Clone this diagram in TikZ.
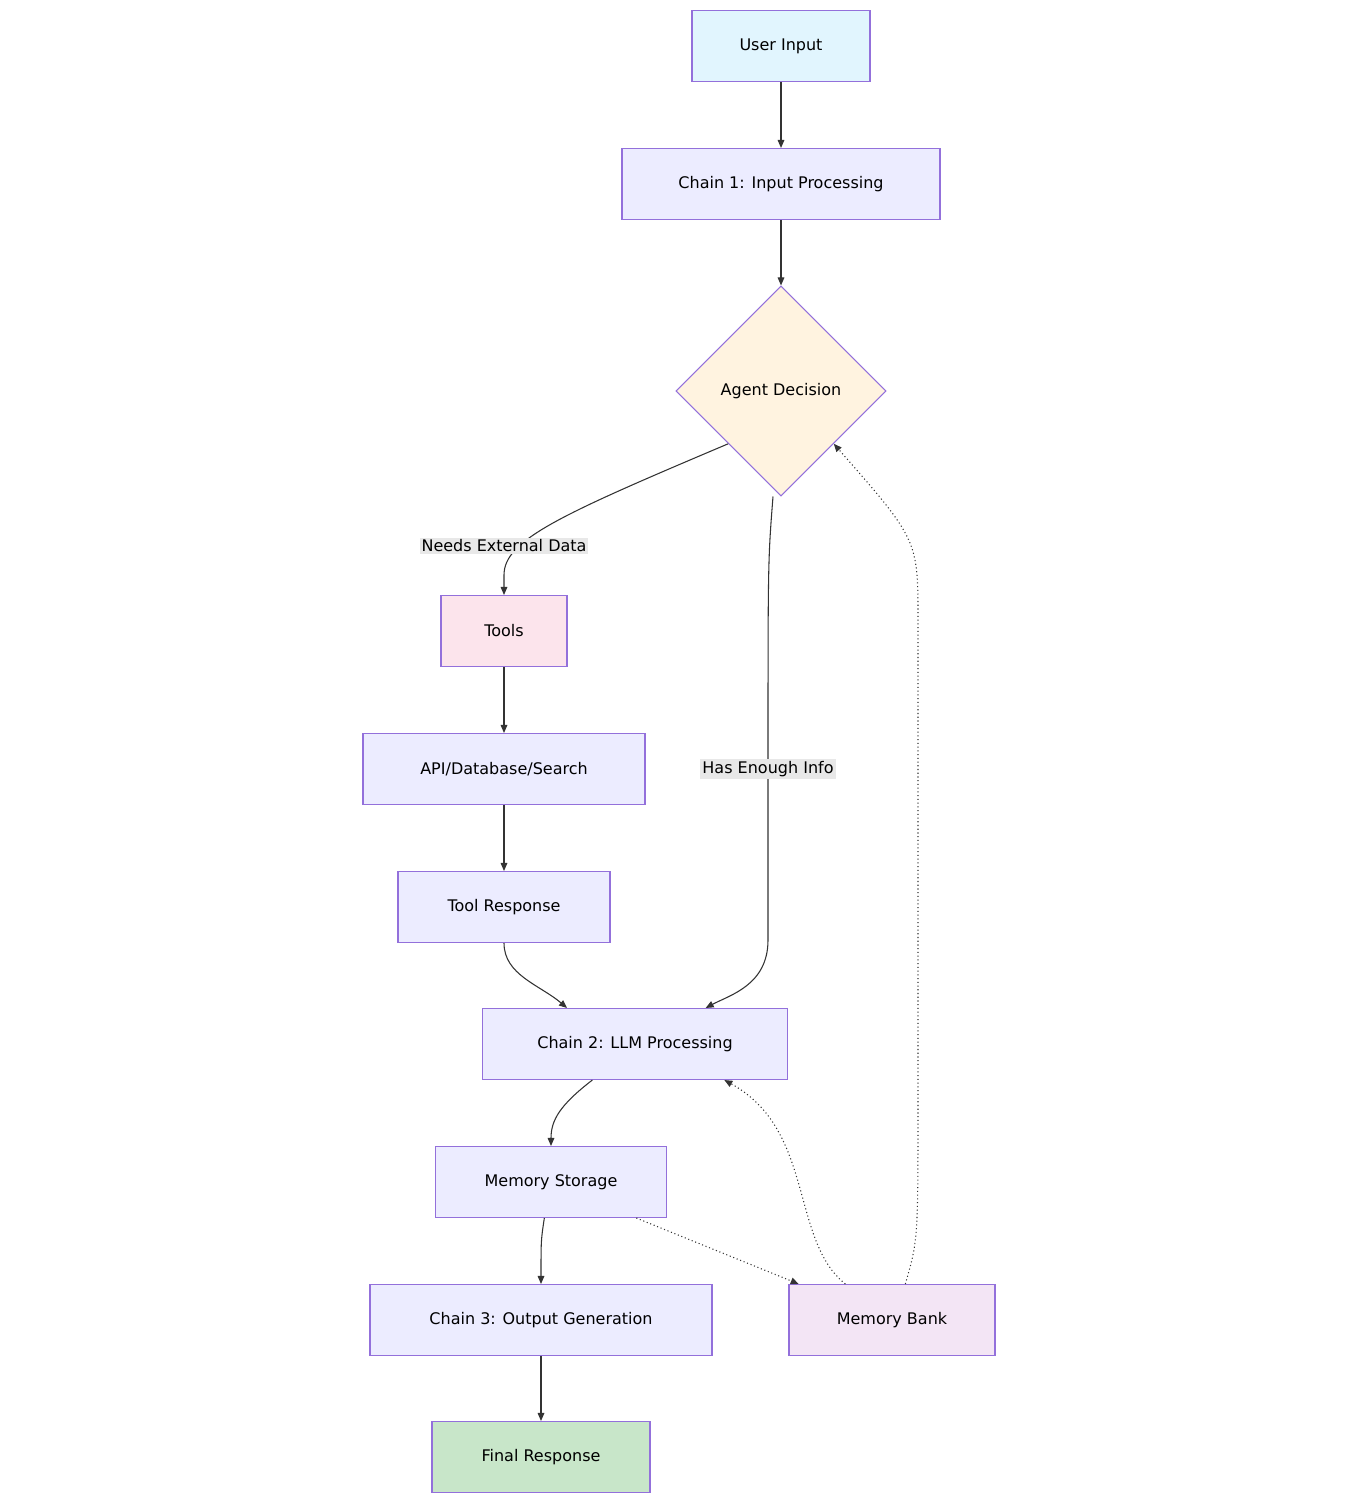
\documentclass[tikz,border=0pt]{standalone}
\usepackage{fontspec}
\setmainfont{DejaVu Sans}
\usetikzlibrary{shapes.geometric, positioning, arrows.meta}
\definecolor{boxFill}{HTML}{ECECFF}
\definecolor{boxLine}{HTML}{9370DB}
\definecolor{inFill}{HTML}{E1F5FE}
\definecolor{decFill}{HTML}{FFF3E0}
\definecolor{toolFill}{HTML}{FCE4EC}
\definecolor{memFill}{HTML}{F3E5F5}
\definecolor{outFill}{HTML}{C8E6C9}
\definecolor{lblFill}{HTML}{E8E8E8}
\tikzset{stepNode/.style={shape=rectangle, draw=boxLine, fill=boxFill, line width=0.8pt, minimum height=53.25pt, inner sep=0pt, font=\fontsize{12}{14}\selectfont}}
\tikzset{decisionNode/.style={shape=diamond, draw=boxLine, fill=decFill, line width=0.8pt, minimum width=157.5pt, minimum height=157.5pt, inner sep=0pt, font=\fontsize{12}{14}\selectfont}}
\tikzset{edgeLabel/.style={fill=lblFill, inner sep=1.5pt, font=\fontsize{12}{14}\selectfont}}
\tikzset{flow/.style={draw=black!80, line width=0.8pt, -{Triangle[length=6pt,width=5pt]}}}
\tikzset{memFlow/.style={flow, dotted}}

\begin{document}
\begin{tikzpicture}[x=0.75pt, y=-0.75pt]
\useasboundingbox (0,0) rectangle (1358,1505);

% Nodes
\node[stepNode, fill=inFill, minimum width=133.5pt] (input) at (781,46) {User Input};
\node[stepNode, minimum width=238.5pt] (chain1) at (781,184) {Chain 1: Input Processing};
\node[decisionNode] (agent) at (781,391) {Agent Decision};
\node[stepNode, fill=toolFill, minimum width=94.5pt] (tools) at (504,631) {Tools};
\node[stepNode, minimum width=211.5pt] (api) at (504,769) {API/Database/Search};
\node[stepNode, minimum width=159pt] (toolResp) at (504,907) {Tool Response};
\node[stepNode, minimum width=228.75pt] (chain2) at (635,1044) {Chain 2: LLM Processing};
\node[stepNode, minimum width=173.25pt] (memStore) at (551,1182) {Memory Storage};
\node[stepNode, minimum width=256.5pt] (chain3) at (541,1320) {Chain 3: Output Generation};
\node[stepNode, fill=memFill, minimum width=154.5pt] (memBank) at (892,1320) {Memory Bank};
\node[stepNode, fill=outFill, minimum width=163.5pt] (final) at (541,1457) {Final Response};

% Main flow
\draw[flow] (input) -- (chain1);
\draw[flow] (chain1) -- (agent);
\draw[flow] (agent.south west) .. controls (560,515) and (504,540) .. (504,575) -- (tools.north);
\node[edgeLabel] (lblNeeds) at (504,546) {Needs External Data};
\draw[flow] ([xshift=-6pt]agent.south) .. controls (768,560) .. (768,769) -- (768,940) .. controls (768,985) and (730,995) .. ([xshift=53pt]chain2.north);
\node[edgeLabel] (lblEnough) at (768,769) {Has Enough Info};
\draw[flow] (tools) -- (api);
\draw[flow] (api) -- (toolResp);
\draw[flow] (toolResp.south) .. controls (504,975) and (540,985) .. ([xshift=-51pt]chain2.north);
\draw[flow] ([xshift=-32pt]chain2.south) .. controls (560,1105) and (551,1120) .. (memStore.north);
\draw[flow] ([xshift=-5pt]memStore.south) .. controls (541,1240) .. (chain3.north);
\draw[flow] (chain3) -- (final);

% Memory loops
\draw[memFlow] ([xshift=64pt]memStore.south) -- ([xshift=-70pt]memBank.north);
\draw[memFlow] ([xshift=-35pt]memBank.north) .. controls (790,1240) and (815,1130) .. ([xshift=67pt]chain2.south);
\draw[memFlow] ([xshift=10pt]memBank.north) .. controls (918,1240) .. (918,1100) -- (918,620) .. controls (918,540) .. (agent.south east);
\end{tikzpicture}
\end{document}
